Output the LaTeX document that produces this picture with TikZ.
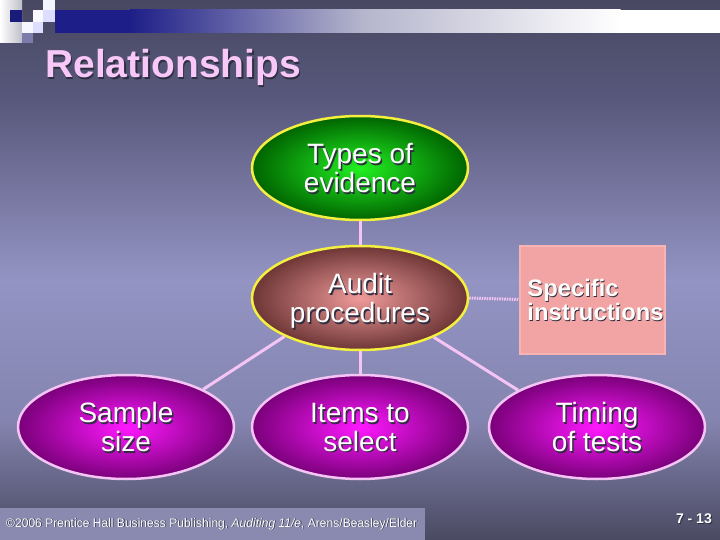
\documentclass[tikz,border=0pt]{standalone}
\usepackage{fontspec}
\setmainfont{Liberation Sans}
\usepackage{graphicx}
\usetikzlibrary{shapes.geometric}
\definecolor{bgA}{HTML}{484862}
\definecolor{bgB}{HTML}{58587C}
\definecolor{bgC}{HTML}{9494C4}
\definecolor{bgD}{HTML}{8484B0}
\definecolor{bgE}{HTML}{4A4A62}
\definecolor{navybar}{HTML}{1E1E88}
\definecolor{midbar}{HTML}{B4B4CC}
\definecolor{titlecol}{HTML}{F8C8F8}
\definecolor{shcol}{HTML}{2E2E40}
\definecolor{linkcol}{HTML}{F4C4F4}
\definecolor{ylw}{HTML}{F4F040}
\definecolor{grin}{HTML}{22F022}
\definecolor{grout}{HTML}{006400}
\definecolor{brin}{HTML}{F09A9A}
\definecolor{brout}{HTML}{6E3636}
\definecolor{mgin}{HTML}{FF18FF}
\definecolor{mgout}{HTML}{7A007A}
\definecolor{salmon}{HTML}{F2A4A4}
\definecolor{salmonb}{HTML}{F8B4B4}
\definecolor{footcol}{HTML}{8A8AB0}
\newcommand\shtxt[2][1.5pt]{\makebox[0pt][l]{\raisebox{-#1}{\hspace{#1}\textcolor{shcol}{#2}}}#2}
\newcommand\twol[2]{\raisebox{-5pt}[\height][\depth]{\begin{tabular}{@{}c@{}}#1\\#2\end{tabular}}}
\newcommand\twoll[2]{\raisebox{-4pt}[\height][\depth]{\begin{tabular}{@{}l@{}}#1\\#2\end{tabular}}}
\tikzset{
  oval/.style={ellipse, minimum width=216pt, minimum height=104pt, inner sep=0pt,
    line width=2.5pt, text=white, font=\fontsize{28}{28}\selectfont, shading=radial},
  topoval/.style={oval, draw=ylw},
  botoval/.style={oval, draw=linkcol, inner color=mgin, outer color=mgout},
  link/.style={draw=linkcol, line width=3pt},
}
\begin{document}
\begin{tikzpicture}[x=1pt,y=-1pt]
\useasboundingbox (0,0) rectangle (720,540);
% background
\shade[top color=bgA, bottom color=bgB] (0,0) rectangle (720,100.5);
\shade[top color=bgB, bottom color=bgC] (0,100) rectangle (720,280.5);
\shade[top color=bgC, bottom color=bgD] (0,280) rectangle (720,420.5);
\shade[top color=bgD, bottom color=bgE] (0,420) rectangle (720,540);
% top bar
\fill[navybar] (55,10) rectangle (130.5,33);
\shade[left color=navybar, right color=midbar] (130,10) rectangle (360.5,33);
\shade[left color=midbar, right color=white] (360,10) rectangle (620.5,33);
\fill[white] (620,10) rectangle (720,33);
% corner squares
\shade[left color=white, right color=white!75!blue!30!gray!60] (0,0) rectangle (22,43);
\fill[navybar!90!black] (10,10) rectangle (22,22);
\fill[white!80!blue!20] (43,0) rectangle (55,10);
\fill[white!85!blue!15] (33,10) rectangle (43,22);
\fill[white!55!blue!30] (43,10) rectangle (55,22);
\fill[white!82!blue!18] (22,22) rectangle (33,33);
\fill[white!55!blue!30] (33,22) rectangle (43,33);
\fill[white!45!blue!35!gray] (22,33) rectangle (33,43);
% title
\node[anchor=base west, inner sep=0pt, text=titlecol, font=\fontsize{39}{39}\selectfont\bfseries] (title) at (45,78) {\shtxt[1.5pt]{Relationships}};
% nodes
\node[topoval, inner color=grin, outer color=grout] (types) at (360,168) {\shtxt{\twol{Types of}{evidence}}};
\node[topoval, inner color=brin, outer color=brout] (audit) at (360,298) {\shtxt{\twol{Audit}{procedures}}};
\node[botoval] (sample) at (126,427) {\shtxt{\twol{Sample}{size}}};
\node[botoval] (items) at (360,427) {\shtxt{\twol{Items to}{select}}};
\node[botoval] (timing) at (597,427) {\shtxt{\twol{Timing}{of tests}}};
\node[rectangle, fill=salmon, draw=salmonb, line width=2pt, minimum width=145pt, minimum height=108pt,
  inner sep=0pt, text=white!95!pink, font=\fontsize{23.8}{22}\selectfont\bfseries] (spec) at (592.5,299.5)
  {\hspace{6pt}\shtxt[0.8pt]{\twoll{Specific}{instructions}}};
% connectors
\draw[link] (types.south) -- (audit.north);
\draw[link] (audit.207) -- (sample.26);
\draw[link] (audit.south) -- (items.north);
\draw[link] (audit.332) -- (timing.155);
\draw[link, dash pattern=on 1.5pt off 1pt] (audit.east) -- (spec.west);
% footer
\fill[footcol] (0,508) rectangle (425,540);
\node[anchor=base west, inner sep=0pt, text=white, font=\fontsize{12.5}{13}\selectfont] (foot) at (6,527)
  {\resizebox{411pt}{\height}{\shtxt[0.8pt]{\textcopyright2006 Prentice Hall Business Publishing, \textit{Auditing 11/e}, Arens/Beasley/Elder}}};
\node[anchor=base east, inner sep=0pt, text=white, font=\fontsize{14}{14}\selectfont\bfseries] (pg) at (712,523) {\shtxt[1pt]{7 - 13}};
\end{tikzpicture}
\end{document}
